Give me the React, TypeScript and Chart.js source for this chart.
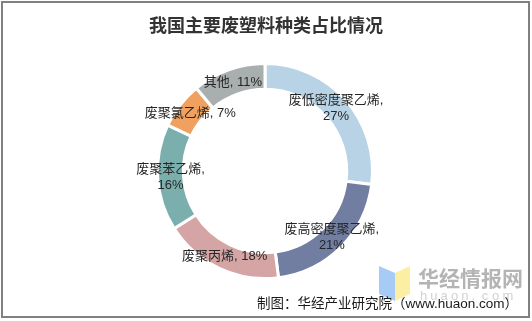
import React, { useEffect, useRef } from "react";
import { Chart, registerables } from "chart.js";

Chart.register(...registerables);

const TITLE = "我国主要废塑料种类占比情况";
const categories = ["废低密度聚乙烯", "废高密度聚乙烯", "废聚丙烯", "废聚苯乙烯", "废聚氯乙烯", "其他"];
const values = [27, 21, 18, 16, 7, 11];
const colors = ["#B8D3E6", "#717DA1", "#D4A5A4", "#7BAFAE", "#F0A05F", "#A9AEAE"];
// which labels wrap onto two lines
const wrapLabel = [true, true, false, true, false, false];
const SOURCE = "制图：华经产业研究院（www.huaon.com）";

const CJK = '"Liberation Sans", "Noto Sans CJK SC", sans-serif';

const overlay = {
  id: "overlay",
  afterDraw(chart: any) {
    const ctx = chart.ctx as CanvasRenderingContext2D;
    const W = chart.width;
    const H = chart.height;
    ctx.save();
    // frame
    ctx.strokeStyle = "#808080";
    ctx.lineWidth = 2;
    ctx.strokeRect(2, 2, W - 5, H - 6);

    // title
    ctx.fillStyle = "#333333";
    ctx.font = 'bold 18px "Noto Sans CJK SC", serif';
    ctx.textAlign = "center";
    ctx.textBaseline = "middle";
    ctx.fillText(TITLE, W / 2, 25);

    // data labels
    const meta = chart.getDatasetMeta(0);
    ctx.font = "13px " + CJK;
    ctx.fillStyle = "#262626";
    meta.data.forEach((arc: any, i: number) => {
      const p = arc.getProps(["x", "y", "startAngle", "endAngle", "innerRadius", "outerRadius"], true);
      const mid = (p.startAngle + p.endAngle) / 2;
      const r = (p.innerRadius + p.outerRadius) / 2;
      const cx = p.x + Math.cos(mid) * r;
      const cy = p.y + Math.sin(mid) * r;
      const lines = wrapLabel[i]
        ? [categories[i] + ",", values[i] + "%"]
        : [categories[i] + ", " + values[i] + "%"];
      const lh = 16;
      lines.forEach((t, k) => {
        ctx.fillText(t, cx, cy + (k - (lines.length - 1) / 2) * lh);
      });
    });

    // watermark logo
    ctx.fillStyle = "#A6CBF7";
    ctx.beginPath();
    ctx.moveTo(379, 266);
    ctx.lineTo(395, 273);
    ctx.lineTo(395, 301);
    ctx.lineTo(379, 294);
    ctx.closePath();
    ctx.fill();
    ctx.fillStyle = "#FCEFA3";
    ctx.beginPath();
    ctx.moveTo(395, 273);
    ctx.lineTo(410, 266);
    ctx.lineTo(410, 294);
    ctx.lineTo(395, 301);
    ctx.closePath();
    ctx.fill();
    ctx.fillStyle = "#B4B4B4";
    ctx.font = 'bold 21px "Noto Sans CJK SC", sans-serif';
    ctx.textAlign = "left";
    ctx.fillText("华经情报网", 418, 278);
    ctx.fillStyle = "#D2D2D2";
    ctx.font = '13px "Liberation Sans", sans-serif';
    const wm = "huaon.com";
    for (let k = 0; k < wm.length; k++) ctx.fillText(wm[k], 420 + k * 10.3, 296);

    // source
    ctx.fillStyle = "#1a1a1a";
    ctx.font = "13.5px " + CJK;
    ctx.textAlign = "right";
    ctx.fillText(SOURCE, 518, 304);
    ctx.restore();
  },
};

export default function App() {
  const ref = useRef<HTMLCanvasElement>(null);
  useEffect(() => {
    document.body.style.margin = "0";
    const chart = new Chart(ref.current as HTMLCanvasElement, {
      type: "doughnut",
      data: {
        labels: categories,
        datasets: [
          {
            data: values,
            backgroundColor: colors,
            borderColor: "#ffffff",
            borderWidth: 3,
          },
        ],
      },
      options: {
        responsive: false,
        animation: false,
        cutout: "76%",
        rotation: 0,
        layout: { padding: { left: 156, right: 158, top: 62, bottom: 41 } },
        plugins: {
          legend: { display: false },
          tooltip: { enabled: false },
          title: { display: false },
        },
      },
      plugins: [overlay],
    });
    return () => chart.destroy();
  }, []);
  return (
    <div style={{ width: 532, height: 321, background: "#fff" }}>
      <canvas ref={ref} width={532} height={321} style={{ display: "block" }} />
    </div>
  );
}
